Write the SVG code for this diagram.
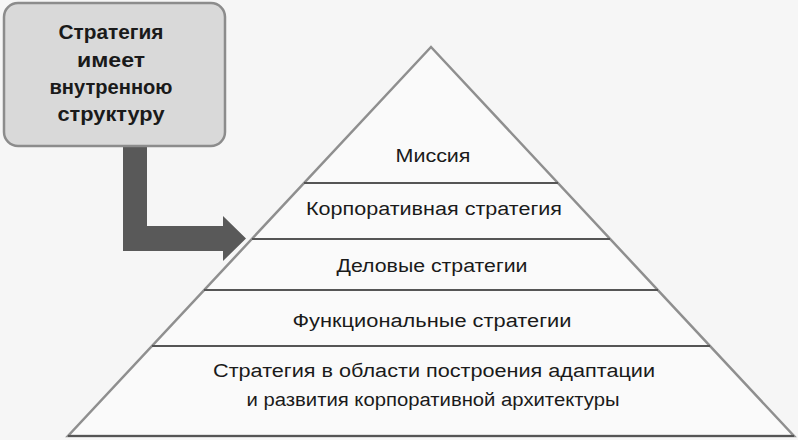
<svg xmlns="http://www.w3.org/2000/svg" width="798" height="440" viewBox="0 0 798 440">
  <style>
    .bg { fill: #f6f6f6; }
    .box { fill: #d9d9d9; stroke: #8c8c8c; stroke-width: 2.5; }
    .boxtxt { font-family: "Liberation Sans", Arial, sans-serif; font-weight: bold; font-size: 20px; fill: #1a1a1a; text-anchor: middle; }
    .tier { font-family: "Liberation Sans", Arial, sans-serif; font-size: 18px; fill: #1a1a1a; text-anchor: middle; }
    .slope { fill: #fafafa; stroke: #8f8f8f; stroke-width: 2.5; stroke-linejoin: miter; }
    .sep { stroke: #555555; stroke-width: 2; }
    .arrow { fill: #595959; }
  </style>
  <rect class="bg" x="0" y="0" width="798" height="440"/>

  <g id="connectors">
    <polygon class="arrow" points="123,144 147,144 147,226 223,226 223,216 246,238.5 223,261 223,251 123,251"/>
  </g>

  <g id="note">
    <rect class="box" x="4" y="3" width="221" height="143" rx="14" ry="14"/>
    <text class="boxtxt" x="111" y="39" textLength="105" lengthAdjust="spacingAndGlyphs">Стратегия</text>
    <text class="boxtxt" x="111" y="67" textLength="68" lengthAdjust="spacingAndGlyphs">имеет</text>
    <text class="boxtxt" x="111" y="94" textLength="123" lengthAdjust="spacingAndGlyphs">внутренною</text>
    <text class="boxtxt" x="111" y="121" textLength="107" lengthAdjust="spacingAndGlyphs">структуру</text>
  </g>

  <g id="pyramid">
    <polygon class="slope" points="431,47 794,436 68,436"/>
    <line class="sep" x1="304" y1="183" x2="558" y2="183"/>
    <line class="sep" x1="252" y1="239" x2="610" y2="239"/>
    <line class="sep" x1="204" y1="290" x2="658" y2="290"/>
    <line class="sep" x1="152" y1="346" x2="710" y2="346"/>
    <line class="sep" x1="68" y1="436" x2="794" y2="436"/>
  </g>

  <g id="tier-mission">
    <text class="tier" x="433" y="162" textLength="75" lengthAdjust="spacingAndGlyphs">Миссия</text>
  </g>
  <g id="tier-corporate">
    <text class="tier" x="434" y="215" textLength="256" lengthAdjust="spacingAndGlyphs">Корпоративная стратегия</text>
  </g>
  <g id="tier-business">
    <text class="tier" x="432" y="272" textLength="191" lengthAdjust="spacingAndGlyphs">Деловые стратегии</text>
  </g>
  <g id="tier-functional">
    <text class="tier" x="432" y="327" textLength="279" lengthAdjust="spacingAndGlyphs">Функциональные стратегии</text>
  </g>
  <g id="tier-architecture">
    <text class="tier" x="434" y="377" textLength="442" lengthAdjust="spacingAndGlyphs">Стратегия в области построения адаптации</text>
    <text class="tier" x="433" y="406" textLength="373" lengthAdjust="spacingAndGlyphs">и развития корпоративной архитектуры</text>
  </g>
</svg>
